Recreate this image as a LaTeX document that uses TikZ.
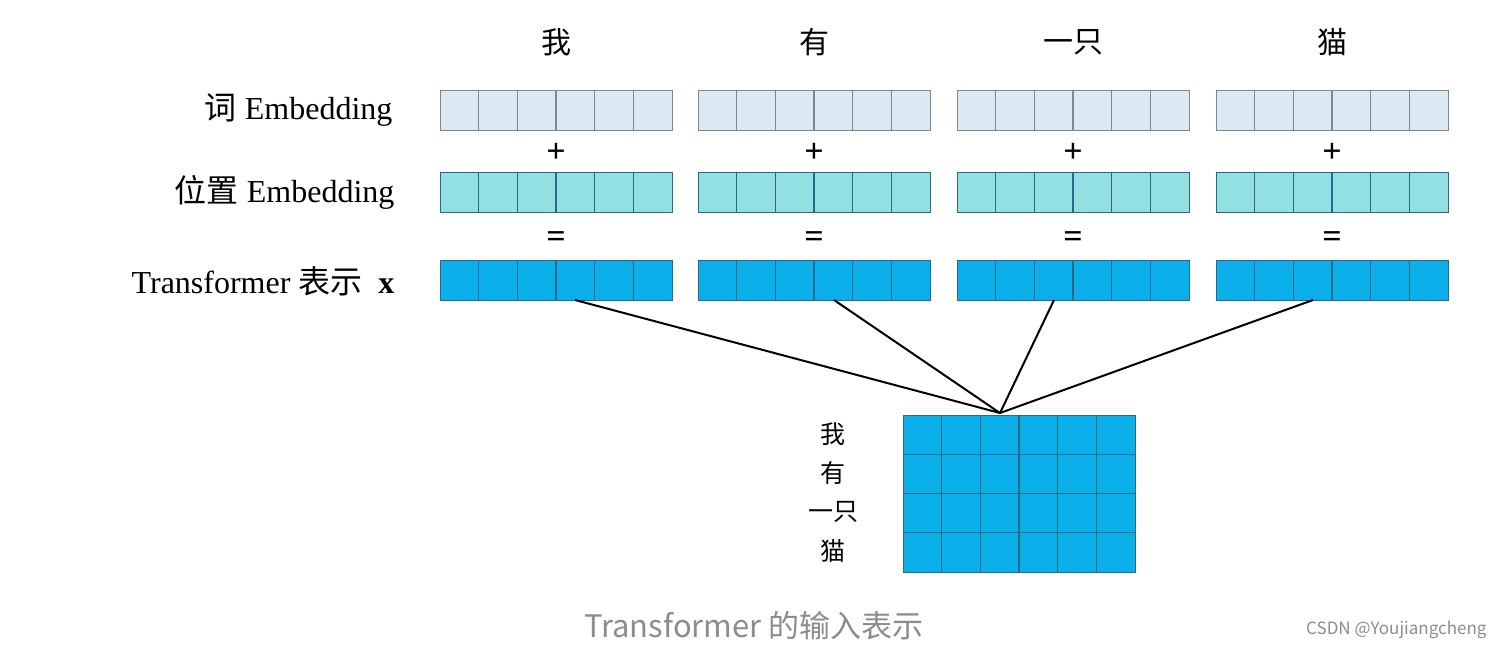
\documentclass[tikz,border=0pt]{standalone}
\usepackage{fontspec}
\setmainfont{Liberation Serif}
\newfontfamily\cjk{Noto Sans CJK SC}
\newfontfamily\capfont{Noto Sans CJK SC}
\definecolor{cLight}{HTML}{DDE9F2}
\definecolor{cMid}{HTML}{93E0E3}
\definecolor{cDark}{HTML}{0AAEE8}
\definecolor{cBorderL}{HTML}{7A8890}
\definecolor{cBorderD}{HTML}{2A6A88}
\tikzset{
  lbl/.style={anchor=east,font=\fontsize{32}{36}\selectfont},
  word/.style={font=\cjk\fontsize{30}{34}\selectfont},
  op/.style={font=\fontsize{34}{36}\selectfont\bfseries},
  conn/.style={line width=2pt,black}
}
\begin{document}
\begin{tikzpicture}[x=1pt,y=-1pt]
\useasboundingbox (0,0) rectangle (1504,649);
% rows
\foreach \gx [count=\g] in {440,698,957,1216}{
  \foreach \ry/\fc/\dc/\r in {90/cLight/cBorderL/1,172/cMid/cBorderD/2,260/cDark/cBorderD/3}{
    \node[draw=\dc,fill=\fc,line width=1.2pt,minimum width=232pt,minimum height=40pt,inner sep=0,anchor=north west] (r\r g\g) at (\gx,\ry) {};
    \foreach \i in {1,...,5}{
      \draw[\dc,line width=1.2pt] (\gx+\i*38.67,\ry) -- (\gx+\i*38.67,\ry+40);
    }
  }
  \node[op] at (\gx+116,153) {+};
  \node[op] at (\gx+116,240) {=};
}
\node[word] at (556,42) {我};
\node[word] at (814,42) {有};
\node[word] at (1073,42) {一只};
\node[word] at (1332,42) {猫};
\node[lbl] at (396,110) {{\cjk 词}\ Embedding};
\node[lbl] at (398,192) {{\cjk 位置}\ Embedding};
\node[lbl] at (398,281) {Transformer {\cjk 表示}\ \ \textbf{x}};
% matrix
\node[draw=cBorderD,fill=cDark,line width=1.2pt,minimum width=232pt,minimum height=157pt,inner sep=0,anchor=north west] (mat) at (903,415) {};
\foreach \i in {1,...,5}{\draw[cBorderD,line width=1.2pt] (903+\i*38.67,415) -- (903+\i*38.67,572);}
\foreach \j in {1,2,3}{\draw[cBorderD,line width=1.2pt] (903,415+\j*39.25) -- (1135,415+\j*39.25);}
\coordinate (hub) at (1000,413);
\coordinate (p1) at (575,300);
\coordinate (p2) at (834,300);
\coordinate (p3) at (1054,300);
\coordinate (p4) at (1313,300);
\foreach \k in {1,...,4}{\draw[conn] (p\k) -- (hub);}
\node[word,font=\cjk\fontsize{25}{28}\selectfont] at (833,434) {我};
\node[word,font=\cjk\fontsize{25}{28}\selectfont] at (833,473) {有};
\node[word,font=\cjk\fontsize{25}{28}\selectfont] at (833,512) {一只};
\node[word,font=\cjk\fontsize{25}{28}\selectfont] at (833,551) {猫};
\node[font=\capfont\fontsize{31}{34}\selectfont,text=gray!90] at (754,626) {Transformer 的输入表示};
\node[font=\capfont\fontsize{17}{20}\selectfont,text=gray!90,anchor=east] at (1490,630) {CSDN @Youjiangcheng};
\end{tikzpicture}
\end{document}
